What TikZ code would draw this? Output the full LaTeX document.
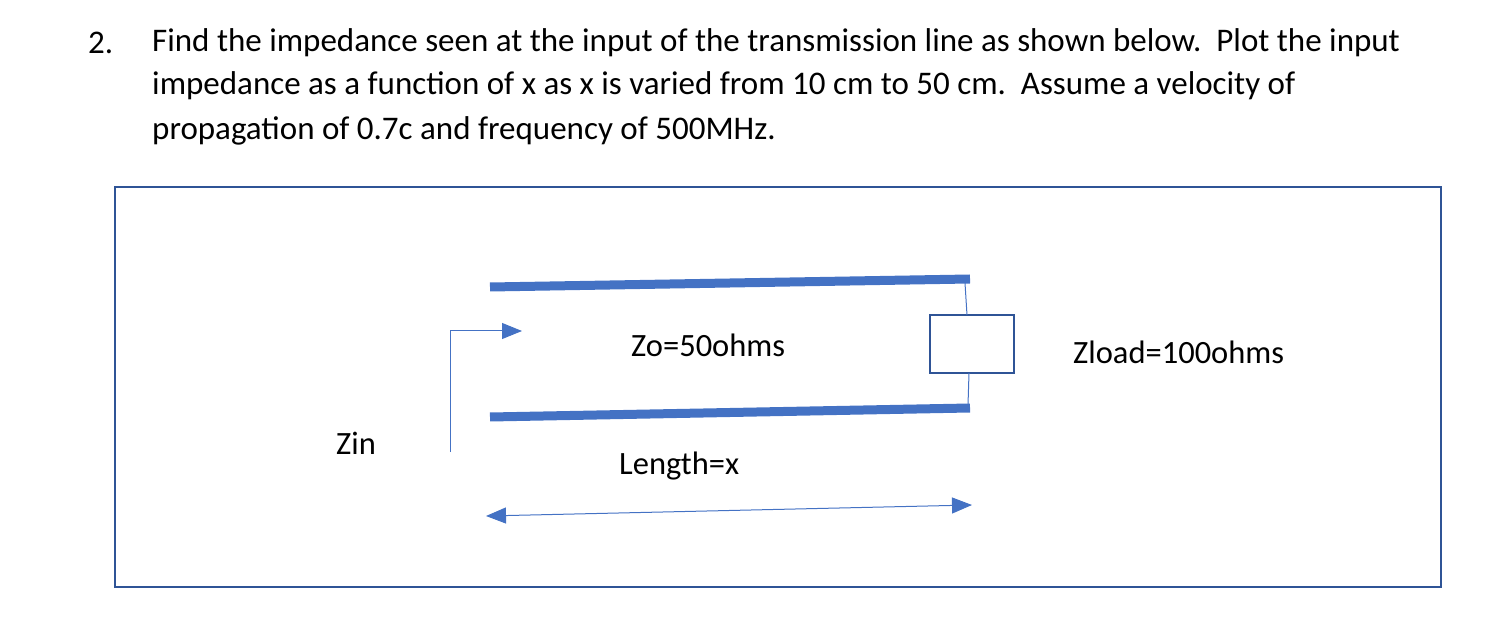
\documentclass[tikz,border=0pt]{standalone}
\usepackage{fontspec}
\setmainfont{Carlito}
\usetikzlibrary{arrows.meta}
\definecolor{lineblue}{HTML}{4472C4}
\definecolor{frameblue}{HTML}{2F5496}
\begin{document}
\begin{tikzpicture}[x=1pt,y=-1pt,
  thickline/.style={lineblue,line width=9pt},
  thin/.style={lineblue,line width=1pt},
  tip/.style={-{Triangle[length=20pt,width=16pt]}},
  lbl/.style={font=\fontsize{32.5}{36}\selectfont,anchor=west,inner sep=0pt},
  ttl/.style={font=\fontsize{33}{40}\selectfont,anchor=west,inner sep=0pt}]
\useasboundingbox (0,0) rectangle (1508,644);
\node[ttl] (n2) at (88,43) {2.};
\node[ttl] (t1) at (152,43) {Find the impedance seen at the input of the transmission line as shown below.\ \ Plot the input};
\node[ttl] (t2) at (152,86) {impedance as a function of x as x is varied from 10 cm to 50 cm.\ \ Assume a velocity of};
\node[ttl] (t3) at (152,131) {propagation of 0.7c and frequency of 500MHz.};
\draw[frameblue,line width=2.5pt] (115,187) rectangle (1441,587);
\coordinate (ta) at (490,287); \coordinate (tb) at (970,279);
\coordinate (ba) at (490,417); \coordinate (bb) at (970,408);
\draw[thickline] (ta) -- (tb);
\draw[thickline] (ba) -- (bb);
\node[draw=frameblue,line width=2pt,minimum width=84pt,minimum height=58pt,inner sep=0pt] (box) at (972,344) {};
\draw[thin] (965,283) -- (967,315);
\draw[thin] (969,373) -- (968,405);
\coordinate (z0) at (450,452); \coordinate (z1) at (450,331); \coordinate (z2) at (522,331);
\draw[thin,tip] (z0) -- (z1) -- (z2);
\coordinate (la) at (486,516); \coordinate (lb) at (972,505);
\draw[thin,{Triangle[length=20pt,width=16pt]}-{Triangle[length=20pt,width=16pt]}] (la) -- (lb);
\node[lbl] (zo) at (631,345) {Zo=50ohms};
\node[lbl] (zl) at (1073,352) {Zload=100ohms};
\node[lbl] (zin) at (336,443) {Zin};
\node[lbl] (len) at (619,466) {Length=x};
\end{tikzpicture}
\end{document}
